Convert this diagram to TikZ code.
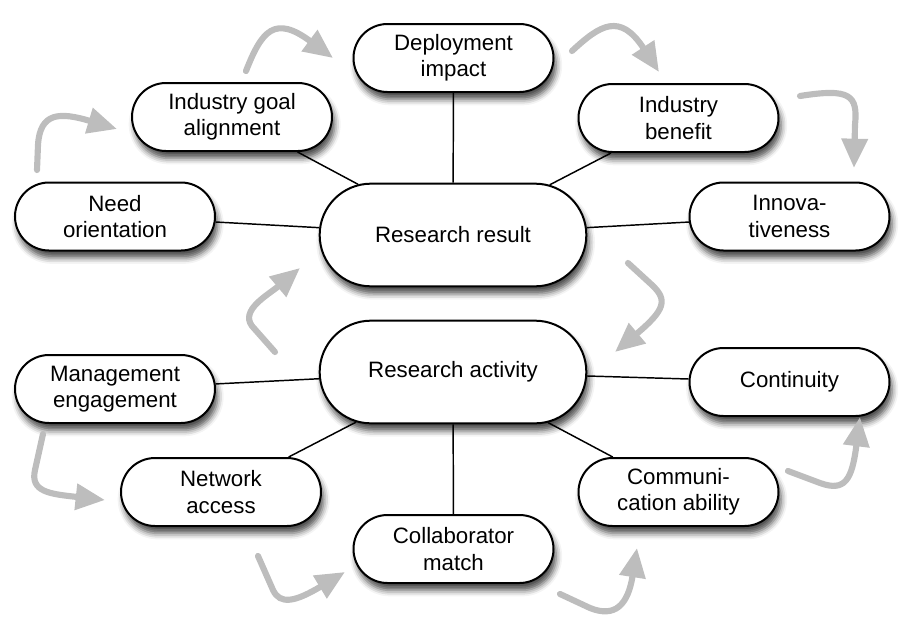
\documentclass[tikz,border=0pt]{standalone}
\usepackage{fontspec}
\setmainfont{Liberation Sans}
\usetikzlibrary{shapes.misc,arrows.meta,shadows.blur}
\definecolor{flowgray}{HTML}{BDBDBD}
\tikzset{
  pill/.style={rounded rectangle, draw=black, line width=1.5pt, fill=white,
    minimum width=154pt, minimum height=51pt, align=center,
    font=\fontsize{16.7}{19.8}\selectfont, inner sep=2pt,
    blur shadow={shadow xshift=2pt, shadow yshift=-5.5pt, shadow blur radius=4.5pt, shadow opacity=70}},
  bigpill/.style={pill, minimum width=204pt, minimum height=77pt},
  link/.style={line width=1.1pt, draw=black},
  flow/.style={draw=flowgray, line width=4.6pt, line cap=round,
    -{Triangle[length=22pt, width=19pt]}}
}
\begin{document}
\begin{tikzpicture}[x=0.75pt,y=-0.75pt]
\useasboundingbox (0,0) rectangle (911,629);
\node[bigpill] (res) at (453,235) {Research result};
\node[bigpill] (act) at (453,372) {Research activity};
\node[pill] (dep) at (453.5,58) {Deployment\\impact};
\node[pill] (iga) at (232,117) {Industry goal\\alignment};
\node[pill] (need) at (115,216.5) {Need\\orientation};
\node[pill] (ib) at (678.5,118) {Industry\\benefit};
\node[pill] (inn) at (789.5,216.5) {Innova-\\tiveness};
\node[pill] (mgmt) at (115,389) {Management\\engagement};
\node[pill] (net) at (221,492) {Network\\access};
\node[pill] (col) at (453.5,549) {Collaborator\\match};
\node[pill] (comm) at (678.5,492) {Communi-\\cation ability};
\node[pill] (cont) at (789.5,382) {Continuity};
% connectors
\draw[link] (dep) -- (res);
\draw[link] (iga) -- (res);
\draw[link] (need) -- (res);
\draw[link] (ib) -- (res);
\draw[link] (inn) -- (res);
\draw[link] (mgmt) -- (act);
\draw[link] (net) -- (act);
\draw[link] (col) -- (act);
\draw[link] (comm) -- (act);
\draw[link] (cont) -- (act);
% gray flow arrows
\draw[flow] (37,170) -- (38,145) .. controls (40,112) and (60,112) .. (117,129);
\draw[flow] (246,71) .. controls (262,30) and (275,15) .. (333,58);
\draw[flow] (572,51) .. controls (600,25) and (620,12) .. (659,72);
\draw[flow] (800,96) .. controls (850,88) and (858,95) .. (855,125) -- (854,168);
\draw[flow] (628,263) -- (652,285) .. controls (668,300) and (665,310) .. (615,352);
\draw[flow] (275,352) -- (252,326) .. controls (240,310) and (268,295) .. (300,268);
\draw[flow] (43,434) -- (35,470) .. controls (30,492) and (50,494) .. (105,500);
\draw[flow] (258,556) -- (273,590) .. controls (280,605) and (295,602) .. (345,572);
\draw[flow] (560,594) -- (590,608) .. controls (615,618) and (628,605) .. (637,548);
\draw[flow] (788,471) -- (820,483) .. controls (845,492) and (852,480) .. (860,417);
\end{tikzpicture}
\end{document}
